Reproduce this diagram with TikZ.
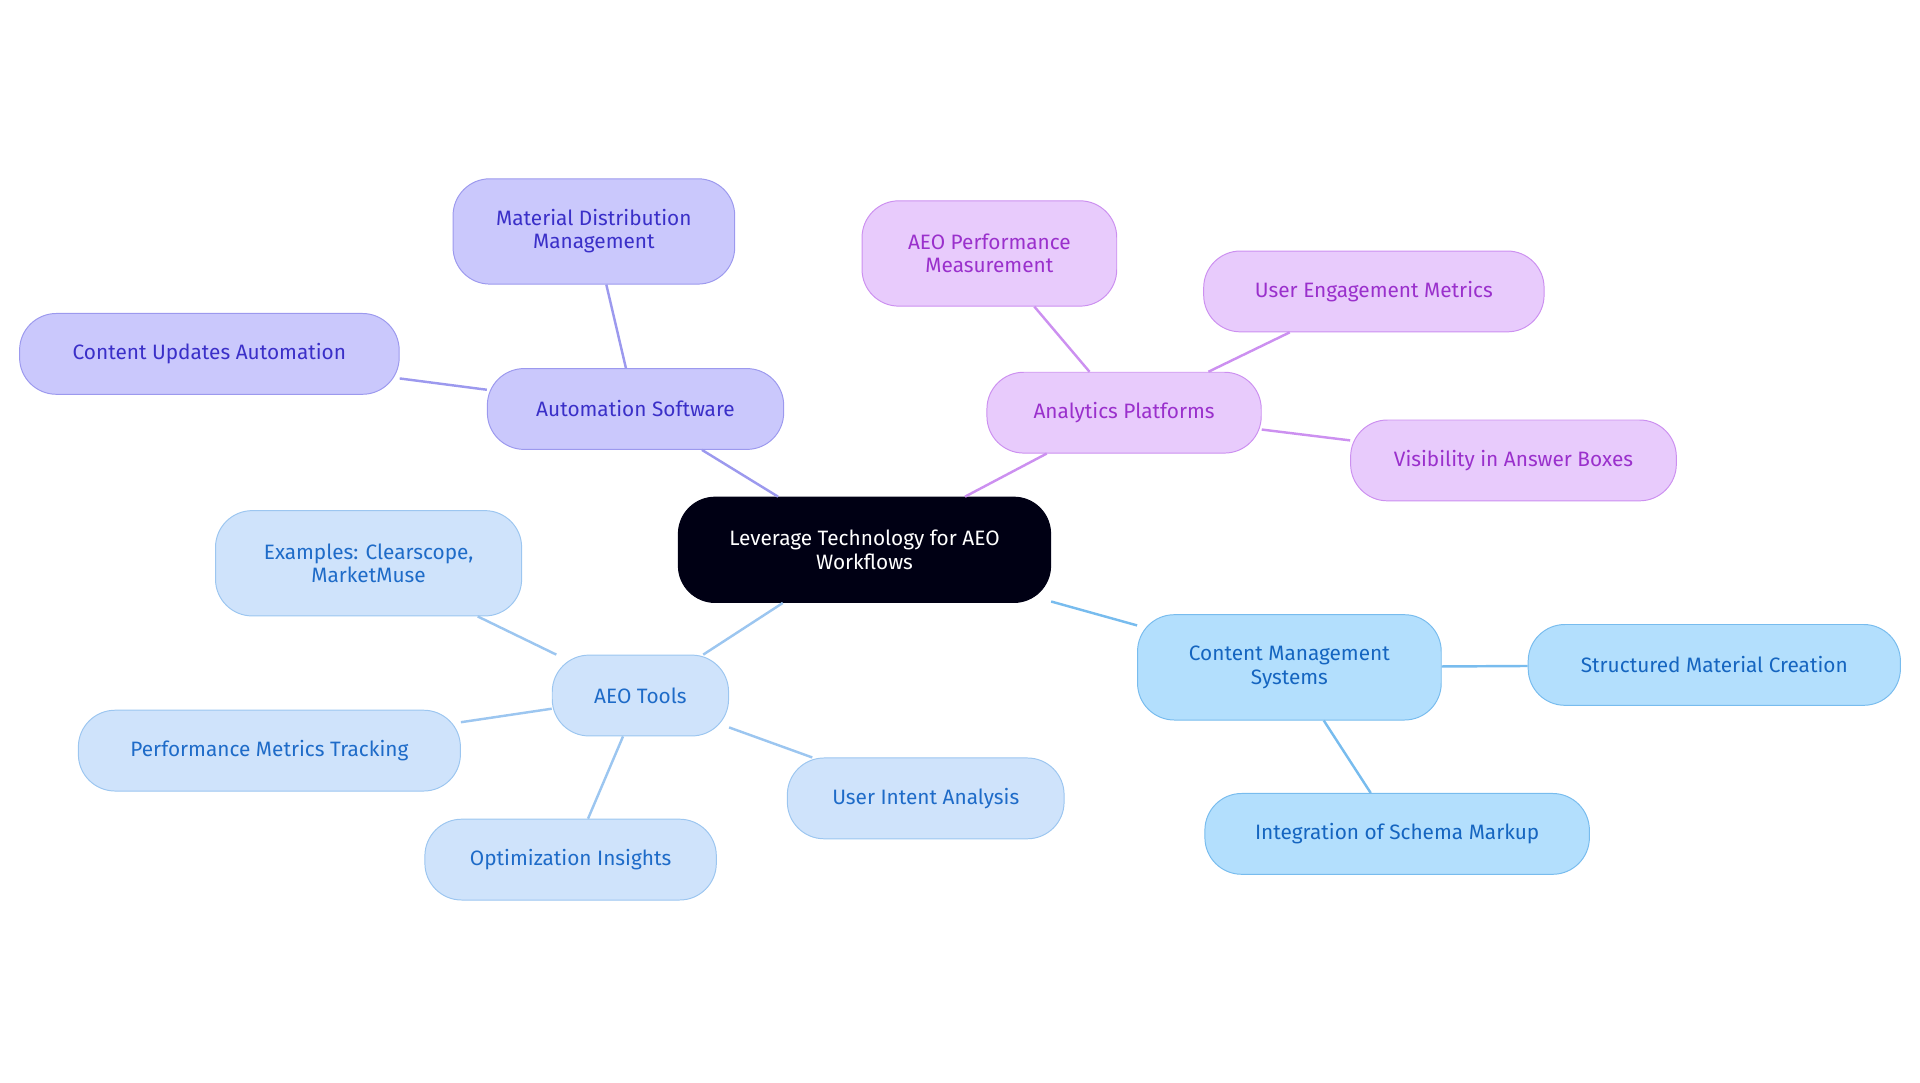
\documentclass[tikz,border=0pt]{standalone}
\usepackage{fontspec}
\setmainfont{Fira Sans}
\begin{document}
\begin{tikzpicture}[x=1pt,y=-1pt,
  box/.style={draw,rounded corners=30pt,align=center,inner sep=0pt,font=\fontsize{17}{19}\selectfont,line width=0.8pt},
  pur/.style={box,fill=purple1,draw=purple2,text=purple3},
  mag/.style={box,fill=mag1,draw=mag2,text=mag3},
  sky/.style={box,fill=sky1,draw=sky2,text=sky3},
  pale/.style={box,fill=pale1,draw=pale2,text=pale3},
  ln/.style={line width=2pt}]
\definecolor{purple1}{HTML}{CAC8FC}\definecolor{purple2}{HTML}{9C99EE}\definecolor{purple3}{HTML}{3A2FC8}
\definecolor{mag1}{HTML}{E8CBFC}\definecolor{mag2}{HTML}{CC90F0}\definecolor{mag3}{HTML}{9A30CC}
\definecolor{sky1}{HTML}{B3DFFD}\definecolor{sky2}{HTML}{78BCEE}\definecolor{sky3}{HTML}{1565C0}
\definecolor{pale1}{HTML}{CFE3FB}\definecolor{pale2}{HTML}{9CC6F0}\definecolor{pale3}{HTML}{1E6BC8}
\useasboundingbox (0,0) rectangle (1568,884);
\node[box,fill=black!90!blue!60!black,fill=black!92!blue,draw=black!92!blue,text=white,minimum width=304pt,minimum height=86pt] (c) at (706,449) {Leverage Technology for AEO\\Workflows};
\node[pur,minimum width=242pt,minimum height=66pt] (as) at (519,334) {Automation Software};
\node[pur,minimum width=230pt,minimum height=86pt] (md) at (485,189) {Material Distribution\\Management};
\node[pur,minimum width=310pt,minimum height=66pt] (cu) at (171,289) {Content Updates Automation};
\node[mag,minimum width=224pt,minimum height=66pt] (ap) at (918,337) {Analytics Platforms};
\node[mag,minimum width=208pt,minimum height=86pt] (pm) at (808,207) {AEO Performance\\Measurement};
\node[mag,minimum width=278pt,minimum height=66pt] (ue) at (1122,238) {User Engagement Metrics};
\node[mag,minimum width=266pt,minimum height=66pt] (vb) at (1236,376) {Visibility in Answer Boxes};
\node[sky,minimum width=248pt,minimum height=86pt] (cm) at (1053,545) {Content Management\\Systems};
\node[sky,minimum width=304pt,minimum height=66pt] (sm) at (1400,543) {Structured Material Creation};
\node[sky,minimum width=314pt,minimum height=66pt] (is) at (1141,681) {Integration of Schema Markup};
\node[pale,minimum width=144pt,minimum height=66pt] (at) at (523,568) {AEO Tools};
\node[pale,minimum width=250pt,minimum height=86pt] (ex) at (301,460) {Examples: Clearscope,\\MarketMuse};
\node[pale,minimum width=312pt,minimum height=66pt] (pt) at (220,613) {Performance Metrics Tracking};
\node[pale,minimum width=238pt,minimum height=66pt] (oi) at (466,702) {Optimization Insights};
\node[pale,minimum width=226pt,minimum height=66pt] (ui) at (756,652) {User Intent Analysis};
\begin{scope}[on background layer/.style={}]
\end{scope}
\begin{pgfinterruptboundingbox}\end{pgfinterruptboundingbox}
\draw[ln,purple2] (c) -- (as);
\draw[ln,purple2] (as) -- (md);
\draw[ln,purple2] (as) -- (cu);
\draw[ln,mag2] (c) -- (ap);
\draw[ln,mag2] (ap) -- (pm);
\draw[ln,mag2] (ap) -- (ue);
\draw[ln,mag2] (ap) -- (vb);
\draw[ln,sky2] (c) -- (cm);
\draw[ln,sky2] (cm) -- (sm);
\draw[ln,sky2] (cm) -- (is);
\draw[ln,pale2] (c) -- (at);
\draw[ln,pale2] (at) -- (ex);
\draw[ln,pale2] (at) -- (pt);
\draw[ln,pale2] (at) -- (oi);
\draw[ln,pale2] (at) -- (ui);
\end{tikzpicture}
\end{document}
